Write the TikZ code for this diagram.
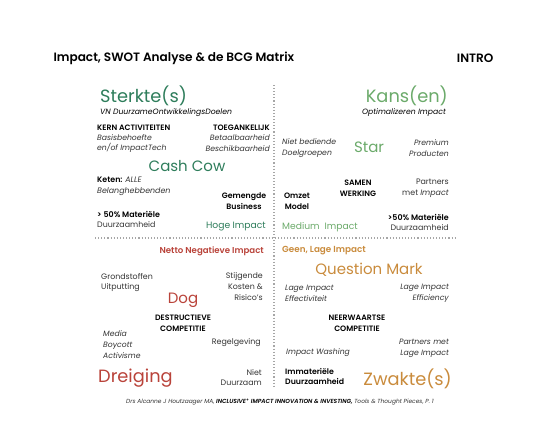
\documentclass[tikz,border=0pt]{standalone}
\usepackage{fontspec}
\setmainfont{Poppins}[BoldFont={Poppins SemiBold}, BoldItalicFont={Poppins SemiBold Italic}]
\usepackage{tikz}

\definecolor{sterkgroen}{HTML}{2E7D5B}
\definecolor{kansgroen}{HTML}{6BAA6A}
\definecolor{dreigrood}{HTML}{B9433A}
\definecolor{zwakoranje}{HTML}{C98B3C}
\definecolor{tekstgrijs}{HTML}{333333}

\tikzset{
  txt/.style={inner sep=0pt, text=tekstgrijs, font=\fontsize{7.9}{10.8}\selectfont},
  ital/.style={txt, font=\fontsize{7.7}{10.8}\selectfont\itshape},
  vet/.style={inner sep=0pt, text=black, font=\fontsize{7.8}{10.8}\selectfont\bfseries},
  kop/.style={inner sep=0pt, font=\fontsize{17.8}{20}\selectfont},
  subkop/.style={inner sep=0pt, font=\fontsize{15}{17}\selectfont},
  lijn/.style={dotted, line width=1.1pt, gray!70}
}

\begin{document}
\begin{tikzpicture}[x=1pt, y=-1pt]
  \useasboundingbox (0,0) rectangle (560,433);
  % Titel
  \node[anchor=west, font=\fontsize{12.1}{14}\selectfont\bfseries] (titel) at (50,58) {Impact, SWOT Analyse \& de BCG Matrix};
  \node[anchor=east, font=\fontsize{12.1}{14}\selectfont\bfseries] (intro) at (497,58) {INTRO};
  % Assen
  \draw[lijn] (274,85) -- (274,388);
  \draw[lijn] (95,238) -- (455,238);

  % Sterkte(s) / Cash Cow
  \node[kop, anchor=west, text=sterkgroen] (sterkte) at (100,96) {Sterkte(s)};
  \node[ital, anchor=west, text=black] (vn) at (100,113) {VN DuurzameOntwikkelingsDoelen};
  \node[vet, anchor=west] (kern) at (97,128) {KERN ACTIVITEITEN};
  \node[ital, anchor=west, align=left] (basis) at (97,143.5) {Basisbehoefte\\en/of ImpactTech};
  \node[vet, anchor=east] (toeg) at (270,128) {TOEGANKELIJK};
  \node[ital, anchor=east, align=right] (betaal) at (270,143.5) {Betaalbaarheid\\Beschikbaarheid};
  \node[subkop, text=sterkgroen] (cashcow) at (187,166) {Cash Cow};
  \node[txt, anchor=west, align=left] (keten) at (97,186) {\textbf{\color{black}Keten:} \textit{ALLE}\\\textit{Belanghebbenden}};
  \node[vet, align=center] (gemengd) at (244,201.5) {Gemengde\\Business};
  \node[txt, anchor=west, align=left] (mat1) at (97,219.5) {\textbf{\color{black}> 50\% Materiële}\\Duurzaamheid};
  \node[txt, anchor=east, text=sterkgroen, font=\fontsize{9.2}{10}\selectfont] (hoog) at (266,227) {Hoge Impact};

  % Kans(en) / Star
  \node[kop, anchor=east, text=kansgroen] (kans) at (448,96) {Kans(en)};
  \node[ital, anchor=east, text=black] (optim) at (446,113) {Optimalizeren Impact};
  \node[ital, anchor=west, align=left] (nietbed) at (282,148) {Niet bediende\\Doelgroepen};
  \node[subkop, text=kansgroen] (star) at (369,147) {Star};
  \node[ital, anchor=east, align=right] (premium) at (449,148) {Premium\\Producten};
  \node[vet, align=center] (samen) at (358,188.5) {SAMEN\\WERKING};
  \node[vet, align=center] (omzet) at (297,201.5) {Omzet\\Model};
  \node[txt, anchor=east, align=right] (partners) at (449,188.5) {Partners\\met \textit{Impact}};
  \node[txt, anchor=east, align=right] (mat2) at (449,222.5) {\textbf{\color{black}>50\% Materiële}\\Duurzaamheid};
  \node[txt, anchor=west, text=kansgroen, font=\fontsize{9.2}{10}\selectfont] (medium) at (282,227) {Medium~~Impact};

  % Dreiging / Dog
  \node[txt, anchor=east, text=dreigrood, font=\fontsize{8.6}{10}\selectfont\bfseries] (netto) at (264,251) {Netto Negatieve Impact};
  \node[txt, anchor=west, align=left] (grond) at (101,282.5) {Grondstoffen\\Uitputting};
  \node[txt, anchor=east, align=right] (stijg) at (263,286.5) {Stijgende\\Kosten \&\\Risico's};
  \node[subkop, text=dreigrood] (dog) at (183,300) {Dog};
  \node[vet, align=center] (destruct) at (183,323.5) {DESTRUCTIEVE\\COMPETITIE};
  \node[ital, anchor=west, align=left] (media) at (103,344.5) {Media\\Boycott\\Activisme};
  \node[txt, anchor=east] (regel) at (261,343) {Regelgeving};
  \node[kop, anchor=west, text=dreigrood] (dreiging) at (98,378) {Dreiging};
  \node[txt, anchor=east, align=right] (nietduur) at (262,377.5) {Niet\\Duurzaam};

  % Zwakte(s) / Question Mark
  \node[txt, anchor=west, text=zwakoranje, font=\fontsize{8.8}{10}\selectfont\bfseries] (geen) at (282,251) {Geen, Lage Impact};
  \node[subkop, text=zwakoranje] (qmark) at (369,270) {Question Mark};
  \node[ital, anchor=west, align=left] (effect) at (285,293) {Lage Impact\\Effectiviteit};
  \node[ital, anchor=east, align=right] (effic) at (449,293) {Lage Impact\\Efficiency};
  \node[vet, align=center] (neerw) at (357,323.5) {NEERWAARTSE\\COMPETITIE};
  \node[ital, anchor=east, align=right] (partlaag) at (449,348) {Partners met\\Lage Impact};
  \node[ital, anchor=west] (washing) at (286,353) {Impact Washing};
  \node[vet, anchor=west, align=left] (immat) at (285,376.5) {Immateriële\\Duurzaamheid};
  \node[kop, anchor=east, text=zwakoranje] (zwakte) at (452,379) {Zwakte(s)};

  % Bron
  \node[txt, font=\fontsize{5.9}{7}\selectfont] (bron) at (280,402) {\textit{Drs Alcanne J Houtzaager MA,} \textbf{\textit{\color{black}INCLUSIVE\textsuperscript{+} IMPACT INNOVATION \& INVESTING,}} \textit{Tools \& Thought Pieces, P. 1}};
\end{tikzpicture}
\end{document}
